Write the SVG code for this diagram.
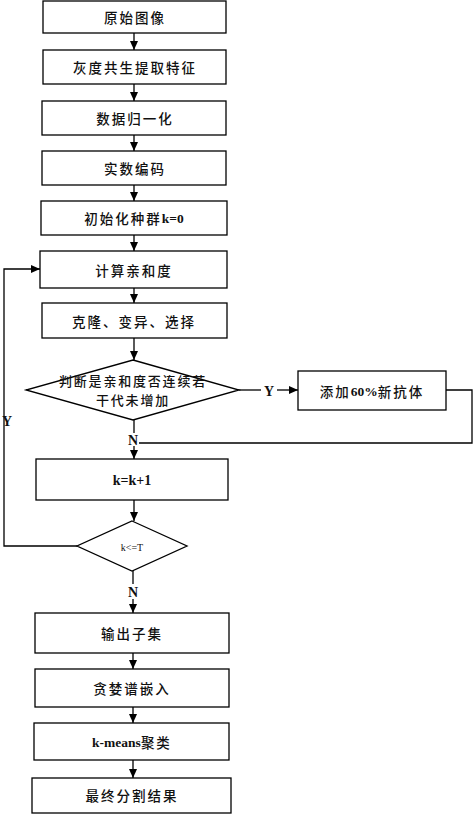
<svg xmlns="http://www.w3.org/2000/svg" width="474" height="814" viewBox="0 0 474 814">
<defs>
<marker id="ah" markerWidth="10" markerHeight="10" refX="9" refY="5" orient="auto" markerUnits="userSpaceOnUse">
<path d="M0,1 L9,5 L0,9 Z" fill="#000"/>
</marker>
<style>
.b{fill:#fff;stroke:#000;stroke-width:1.3}
.t{font-family:"Noto Sans CJK SC","Noto Sans CJK JP",sans-serif;font-size:13.5px;font-weight:500;letter-spacing:2px;text-anchor:middle;dominant-baseline:central;fill:#111}
.l{font-family:"Liberation Serif","Noto Sans CJK SC",serif;font-weight:bold;font-size:14px;text-anchor:middle;dominant-baseline:central;fill:#111}
.c{fill:none;stroke:#000;stroke-width:1.3}
</style>
</defs>
<rect width="474" height="814" fill="#fff"/>
<g id="connectors">
<line class="c" x1="134" y1="33" x2="134" y2="50" marker-end="url(#ah)"/>
<line class="c" x1="134" y1="84" x2="134" y2="101" marker-end="url(#ah)"/>
<line class="c" x1="134" y1="135" x2="134" y2="151" marker-end="url(#ah)"/>
<line class="c" x1="134" y1="185" x2="134" y2="201" marker-end="url(#ah)"/>
<line class="c" x1="134" y1="235" x2="134" y2="251" marker-end="url(#ah)"/>
<line class="c" x1="134" y1="288" x2="134" y2="303" marker-end="url(#ah)"/>
<line class="c" x1="134" y1="338" x2="134" y2="360" marker-end="url(#ah)"/>
<line class="c" x1="239" y1="390" x2="261" y2="390"/>
<line class="c" x1="277" y1="390" x2="298" y2="390" marker-end="url(#ah)"/>
<polyline class="c" points="446,390 472,390 472,443 139,443"/>
<line class="c" x1="134" y1="420" x2="134" y2="433"/>
<line class="c" x1="134" y1="446" x2="134" y2="459" marker-end="url(#ah)"/>
<line class="c" x1="134" y1="500" x2="134" y2="521" marker-end="url(#ah)"/>
<polyline class="c" points="77,546 4,546 4,269 40,269" marker-end="url(#ah)"/>
<line class="c" x1="133" y1="571" x2="133" y2="584"/>
<line class="c" x1="133" y1="599" x2="133" y2="613" marker-end="url(#ah)"/>
<line class="c" x1="133" y1="653" x2="133" y2="669" marker-end="url(#ah)"/>
<line class="c" x1="133" y1="707" x2="133" y2="723" marker-end="url(#ah)"/>
<line class="c" x1="133" y1="760" x2="133" y2="778" marker-end="url(#ah)"/>
<text class="l" x="269" y="391">Y</text>
<text class="l" x="133" y="440">N</text>
<text class="l" x="7" y="421">Y</text>
<text class="l" x="133" y="592">N</text>
</g>
<g id="n1"><rect class="b" x="43" y="1" width="183" height="32"/><text class="t" x="135" y="17">原始图像</text></g>
<g id="n2"><rect class="b" x="43" y="50" width="183" height="34"/><text class="t" x="135" y="67">灰度共生提取特征</text></g>
<g id="n3"><rect class="b" x="42" y="101" width="184" height="34"/><text class="t" x="135" y="118">数据归一化</text></g>
<g id="n4"><rect class="b" x="42" y="151" width="184" height="34"/><text class="t" x="135" y="168">实数编码</text></g>
<g id="n5"><rect class="b" x="41" y="201" width="186" height="34"/><text class="t" x="134" y="218">初始化种群<tspan font-family="Liberation Serif,serif" font-weight="bold" letter-spacing="0">k=0</tspan></text></g>
<g id="n6"><rect class="b" x="40" y="251" width="187" height="37"/><text class="t" x="134" y="270">计算亲和度</text></g>
<g id="n7"><rect class="b" x="42" y="303" width="185" height="35"/><text class="t" x="134" y="321">克隆、变异、选择</text></g>
<g id="d1"><polygon class="b" points="133,360 239,390 133,420 26,390"/><text class="t" x="133" y="380" style="font-size:13px;letter-spacing:1.8px">判断是亲和度否连续若</text><text class="t" x="133" y="399" style="font-size:13px;letter-spacing:1.8px">干代未增加</text></g>
<g id="n8"><rect class="b" x="298" y="371" width="148" height="39"/><text class="t" x="372" y="391">添加<tspan font-family="Liberation Serif,serif" font-weight="bold" letter-spacing="0">60%</tspan>新抗体</text></g>
<g id="n9"><rect class="b" x="36" y="459" width="192" height="41"/><text class="l" x="132" y="480">k=k+1</text></g>
<g id="d2"><polygon class="b" points="132,521 187,546 132,571 77,546"/><text class="l" x="132" y="547" style="font-size:10px;font-weight:normal">k&lt;=T</text></g>
<g id="n10"><rect class="b" x="35" y="613" width="194" height="40"/><text class="t" x="132" y="633">输出子集</text></g>
<g id="n11"><rect class="b" x="35" y="669" width="194" height="38"/><text class="t" x="132" y="688">贪婪谱嵌入</text></g>
<g id="n12"><rect class="b" x="34" y="723" width="195" height="37"/><text class="t" x="132" y="742"><tspan font-family="Liberation Serif,serif" font-weight="bold" letter-spacing="0">k-means</tspan>聚类</text></g>
<g id="n13"><rect class="b" x="32" y="778" width="199" height="35"/><text class="t" x="132" y="795">最终分割结果</text></g>
</svg>
